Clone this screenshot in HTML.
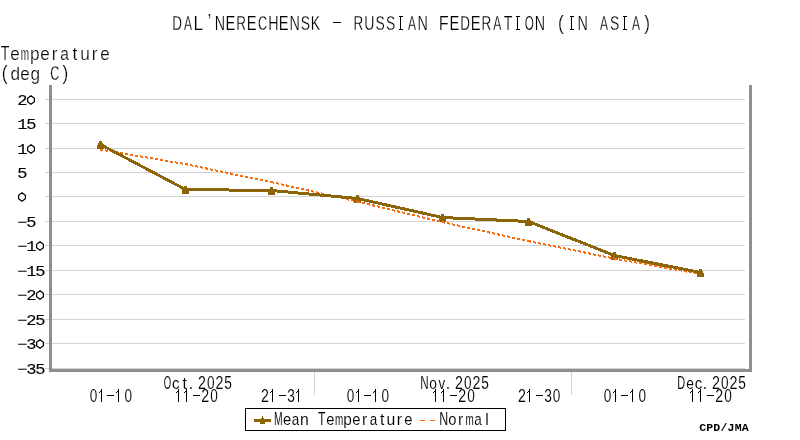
<!DOCTYPE html><html><head><meta charset="utf-8"><style>html,body{margin:0;padding:0;background:#fff;width:800px;height:440px;overflow:hidden}svg{display:block;will-change:transform}</style></head><body>
<svg width="800" height="440" viewBox="0 0 800 440">
<rect width="800" height="440" fill="#fff"/>
<rect x="45" y="99" width="700" height="1" fill="#d3d3d3"/>
<rect x="45" y="123" width="700" height="1" fill="#d3d3d3"/>
<rect x="45" y="148" width="700" height="1" fill="#d3d3d3"/>
<rect x="45" y="172" width="700" height="1" fill="#d3d3d3"/>
<rect x="45" y="196" width="700" height="1" fill="#d3d3d3"/>
<rect x="45" y="221" width="700" height="1" fill="#d3d3d3"/>
<rect x="45" y="245" width="700" height="1" fill="#d3d3d3"/>
<rect x="45" y="270" width="700" height="1" fill="#d3d3d3"/>
<rect x="45" y="294" width="700" height="1" fill="#d3d3d3"/>
<rect x="45" y="319" width="700" height="1" fill="#d3d3d3"/>
<rect x="45" y="343" width="700" height="1" fill="#d3d3d3"/>
<rect x="45" y="368" width="700" height="1" fill="#d3d3d3"/>
<rect x="314" y="372" width="1" height="23" fill="#d3d3d3"/>
<rect x="571" y="372" width="1" height="23" fill="#d3d3d3"/>
<rect x="49" y="85" width="3" height="287" fill="#8f8f8f"/>
<rect x="749" y="85" width="3" height="287" fill="#8f8f8f"/>
<rect x="49" y="369" width="703" height="3" fill="#8f8f8f"/>
<rect x="99" y="141" width="3" height="2" fill="#8b6508"/><rect x="98" y="143" width="5" height="2" fill="#8b6508"/><rect x="97" y="145" width="7" height="4" fill="#8b6508"/>
<rect x="184" y="186" width="3" height="2" fill="#8b6508"/><rect x="183" y="188" width="5" height="2" fill="#8b6508"/><rect x="182" y="190" width="7" height="4" fill="#8b6508"/>
<rect x="270" y="187" width="3" height="2" fill="#8b6508"/><rect x="269" y="189" width="5" height="2" fill="#8b6508"/><rect x="268" y="191" width="7" height="4" fill="#8b6508"/>
<rect x="356" y="195" width="3" height="2" fill="#8b6508"/><rect x="355" y="197" width="5" height="2" fill="#8b6508"/><rect x="354" y="199" width="7" height="4" fill="#8b6508"/>
<rect x="441" y="214" width="3" height="2" fill="#8b6508"/><rect x="440" y="216" width="5" height="2" fill="#8b6508"/><rect x="439" y="218" width="7" height="4" fill="#8b6508"/>
<rect x="527" y="218" width="3" height="2" fill="#8b6508"/><rect x="526" y="220" width="5" height="2" fill="#8b6508"/><rect x="525" y="222" width="7" height="4" fill="#8b6508"/>
<rect x="613" y="252" width="3" height="2" fill="#8b6508"/><rect x="612" y="254" width="5" height="2" fill="#8b6508"/><rect x="611" y="256" width="7" height="4" fill="#8b6508"/>
<rect x="699" y="269" width="3" height="2" fill="#8b6508"/><rect x="698" y="271" width="5" height="2" fill="#8b6508"/><rect x="697" y="273" width="7" height="4" fill="#8b6508"/>
<line x1="100" y1="149.5" x2="185" y2="164" stroke="#ff6a08" stroke-width="2" stroke-dasharray="3.0433 2.0289" shape-rendering="crispEdges"/>
<line x1="185" y1="164" x2="271" y2="182" stroke="#ff6a08" stroke-width="2" stroke-dasharray="3.0650 2.0433" shape-rendering="crispEdges"/>
<line x1="271" y1="182" x2="357" y2="201.5" stroke="#ff6a08" stroke-width="2" stroke-dasharray="3.0762 2.0508" shape-rendering="crispEdges"/>
<line x1="357" y1="201.5" x2="442" y2="222" stroke="#ff6a08" stroke-width="2" stroke-dasharray="3.0860 2.0573" shape-rendering="crispEdges"/>
<line x1="442" y1="222" x2="528" y2="241" stroke="#ff6a08" stroke-width="2" stroke-dasharray="3.0723 2.0482" shape-rendering="crispEdges"/>
<line x1="528" y1="241" x2="614" y2="258.5" stroke="#ff6a08" stroke-width="2" stroke-dasharray="3.0615 2.0410" shape-rendering="crispEdges"/>
<line x1="614" y1="258.5" x2="700" y2="274" stroke="#ff6a08" stroke-width="2" stroke-dasharray="3.0483 2.0322" shape-rendering="crispEdges"/>
<polyline points="100.5,144.5 185.5,189.5 271.5,190.5 357.5,198.5 442.5,217.5 528.5,221.5 614.5,255.5 700.5,272.5" fill="none" stroke="#8b6508" stroke-width="3" shape-rendering="crispEdges"/>
<g font-family="'Liberation Sans', sans-serif" font-size="20.3" font-weight="normal" fill="#000" stroke="#fff" stroke-width="0.25"><text transform="translate(177.33,30) scale(0.6654,1.0)" x="-7.68">D</text><text transform="translate(188.00,30) scale(0.5943,1.0)" x="-6.77">A</text><text transform="translate(198.67,30) scale(0.8500,1.0)" x="-6.14">L</text><text transform="translate(209.33,28) scale(0.8500,1.0)" x="-2.26">’</text><text transform="translate(220.00,30) scale(0.7055,1.0)" x="-7.33">N</text><text transform="translate(230.67,30) scale(0.7271,1.0)" x="-7.17">E</text><text transform="translate(241.34,30) scale(0.6637,1.0)" x="-7.69">R</text><text transform="translate(252.00,30) scale(0.7271,1.0)" x="-7.17">E</text><text transform="translate(262.67,30) scale(0.6223,1.0)" x="-7.46">C</text><text transform="translate(273.34,30) scale(0.7055,1.0)" x="-7.33">H</text><text transform="translate(284.00,30) scale(0.7271,1.0)" x="-7.17">E</text><text transform="translate(294.67,30) scale(0.7055,1.0)" x="-7.33">N</text><text transform="translate(305.34,30) scale(0.6846,1.0)" x="-6.77">S</text><text transform="translate(316.00,30) scale(0.6869,1.0)" x="-7.49">K</text><text transform="translate(358.67,30) scale(0.6637,1.0)" x="-7.69">R</text><text transform="translate(369.34,30) scale(0.6940,1.0)" x="-7.33">U</text><text transform="translate(380.01,30) scale(0.6846,1.0)" x="-6.77">S</text><text transform="translate(390.67,30) scale(0.6846,1.0)" x="-6.77">S</text><text transform="translate(412.01,30) scale(0.5943,1.0)" x="-6.77">A</text><text transform="translate(422.67,30) scale(0.7055,1.0)" x="-7.33">N</text><text transform="translate(444.01,30) scale(0.8063,1.0)" x="-6.63">F</text><text transform="translate(454.68,30) scale(0.7271,1.0)" x="-7.17">E</text><text transform="translate(465.34,30) scale(0.6654,1.0)" x="-7.68">D</text><text transform="translate(476.01,30) scale(0.7271,1.0)" x="-7.17">E</text><text transform="translate(486.68,30) scale(0.6637,1.0)" x="-7.69">R</text><text transform="translate(497.34,30) scale(0.5943,1.0)" x="-6.77">A</text><text transform="translate(508.01,30) scale(0.6970,1.0)" x="-6.20">T</text><text transform="translate(529.34,30) scale(0.5773,1.0)" x="-7.89">O</text><text transform="translate(540.01,30) scale(0.7055,1.0)" x="-7.33">N</text><text transform="translate(561.35,30) scale(0.8500,1.0)" x="-3.95">(</text><text transform="translate(582.68,30) scale(0.7055,1.0)" x="-7.33">N</text><text transform="translate(604.01,30) scale(0.5943,1.0)" x="-6.77">A</text><text transform="translate(614.68,30) scale(0.6846,1.0)" x="-6.77">S</text><text transform="translate(636.01,30) scale(0.5943,1.0)" x="-6.77">A</text><text transform="translate(646.68,30) scale(0.8500,1.0)" x="-2.81">)</text></g><g fill="#000"><rect x="333" y="22" width="8" height="1"/><rect x="399" y="16" width="4" height="1"/><rect x="399" y="29" width="4" height="1"/><rect x="400" y="16" width="1" height="14"/><rect x="516" y="16" width="4" height="1"/><rect x="516" y="29" width="4" height="1"/><rect x="517" y="16" width="1" height="14"/><rect x="570" y="16" width="4" height="1"/><rect x="570" y="29" width="4" height="1"/><rect x="571" y="16" width="1" height="14"/><rect x="623" y="16" width="4" height="1"/><rect x="623" y="29" width="4" height="1"/><rect x="624" y="16" width="1" height="14"/></g>
<g font-family="'Liberation Sans', sans-serif" font-size="20.3" font-weight="normal" fill="#000" stroke="#fff" stroke-width="0.25"><text transform="translate(5.00,60) scale(0.6970,1.0)" x="-6.20">T</text><text transform="translate(15.00,60) scale(0.8398,0.93)" x="-5.63">e</text><text transform="translate(25.00,60) scale(0.4921,0.93)" x="-8.46">m</text><text transform="translate(35.00,60) scale(0.8500,0.93)" x="-5.87">p</text><text transform="translate(45.00,60) scale(0.8398,0.93)" x="-5.63">e</text><text transform="translate(55.00,60) scale(0.8500,0.93)" x="-3.89">r</text><text transform="translate(65.00,60) scale(0.7672,0.93)" x="-6.08">a</text><text transform="translate(75.00,60) scale(0.8500,0.93)" x="-2.90">t</text><text transform="translate(85.00,60) scale(0.8500,0.93)" x="-5.63">u</text><text transform="translate(95.00,60) scale(0.8500,0.93)" x="-3.89">r</text><text transform="translate(105.00,60) scale(0.8398,0.93)" x="-5.63">e</text></g>
<g font-family="'Liberation Sans', sans-serif" font-size="20.3" font-weight="normal" fill="#000" stroke="#fff" stroke-width="0.25"><text transform="translate(5.00,80) scale(0.8500,1.0)" x="-3.95">(</text><text transform="translate(15.00,80) scale(0.8500,0.93)" x="-5.42">d</text><text transform="translate(25.00,80) scale(0.8398,0.93)" x="-5.63">e</text><text transform="translate(35.00,80) scale(0.8500,0.93)" x="-5.42">g</text><text transform="translate(55.00,80) scale(0.6223,1.0)" x="-7.46">C</text><text transform="translate(65.00,80) scale(0.8500,1.0)" x="-2.81">)</text></g>
<text transform="scale(1.14,1)" x="19.74 27.63" y="105" font-family="'Liberation Mono', monospace" font-size="15" font-weight="normal" fill="#000" text-anchor="middle" stroke="#000" stroke-width="0.12">2 </text>
<path d="M31,95.7 L34.4,98.2 L34.4,101.8 L31,104.3 L27.6,101.8 L27.6,98.2 Z" fill="none" stroke="#000" stroke-width="1.25"/>
<text transform="scale(1.14,1)" x="19.74 27.63" y="129" font-family="'Liberation Mono', monospace" font-size="15" font-weight="normal" fill="#000" text-anchor="middle" stroke="#000" stroke-width="0.12">15</text>
<text transform="scale(1.14,1)" x="19.74 27.63" y="154" font-family="'Liberation Mono', monospace" font-size="15" font-weight="normal" fill="#000" text-anchor="middle" stroke="#000" stroke-width="0.12">1 </text>
<path d="M31,144.7 L34.4,147.2 L34.4,150.8 L31,153.3 L27.6,150.8 L27.6,147.2 Z" fill="none" stroke="#000" stroke-width="1.25"/>
<text transform="scale(1.14,1)" x="19.74" y="178" font-family="'Liberation Mono', monospace" font-size="15" font-weight="normal" fill="#000" text-anchor="middle" stroke="#000" stroke-width="0.12">5</text>
<text transform="scale(1.14,1)" x="19.74" y="202" font-family="'Liberation Mono', monospace" font-size="15" font-weight="normal" fill="#000" text-anchor="middle" stroke="#000" stroke-width="0.12"> </text>
<path d="M22,192.7 L25.4,195.2 L25.4,198.8 L22,201.3 L18.6,198.8 L18.6,195.2 Z" fill="none" stroke="#000" stroke-width="1.25"/>
<text transform="scale(1.14,1)" x="19.74 27.63" y="227" font-family="'Liberation Mono', monospace" font-size="15" font-weight="normal" fill="#000" text-anchor="middle" stroke="#000" stroke-width="0.12">−5</text>
<text transform="scale(1.14,1)" x="19.74 27.63 35.53" y="251" font-family="'Liberation Mono', monospace" font-size="15" font-weight="normal" fill="#000" text-anchor="middle" stroke="#000" stroke-width="0.12">−1 </text>
<path d="M40,241.7 L43.4,244.2 L43.4,247.8 L40,250.3 L36.6,247.8 L36.6,244.2 Z" fill="none" stroke="#000" stroke-width="1.25"/>
<text transform="scale(1.14,1)" x="19.74 27.63 35.53" y="276" font-family="'Liberation Mono', monospace" font-size="15" font-weight="normal" fill="#000" text-anchor="middle" stroke="#000" stroke-width="0.12">−15</text>
<text transform="scale(1.14,1)" x="19.74 27.63 35.53" y="300" font-family="'Liberation Mono', monospace" font-size="15" font-weight="normal" fill="#000" text-anchor="middle" stroke="#000" stroke-width="0.12">−2 </text>
<path d="M40,290.7 L43.4,293.2 L43.4,296.8 L40,299.3 L36.6,296.8 L36.6,293.2 Z" fill="none" stroke="#000" stroke-width="1.25"/>
<text transform="scale(1.14,1)" x="19.74 27.63 35.53" y="325" font-family="'Liberation Mono', monospace" font-size="15" font-weight="normal" fill="#000" text-anchor="middle" stroke="#000" stroke-width="0.12">−25</text>
<text transform="scale(1.14,1)" x="19.74 27.63 35.53" y="349" font-family="'Liberation Mono', monospace" font-size="15" font-weight="normal" fill="#000" text-anchor="middle" stroke="#000" stroke-width="0.12">−3 </text>
<path d="M40,339.7 L43.4,342.2 L43.4,345.8 L40,348.3 L36.6,345.8 L36.6,342.2 Z" fill="none" stroke="#000" stroke-width="1.25"/>
<text transform="scale(1.14,1)" x="19.74 27.63 35.53" y="374" font-family="'Liberation Mono', monospace" font-size="15" font-weight="normal" fill="#000" text-anchor="middle" stroke="#000" stroke-width="0.12">−35</text>
<g font-family="'Liberation Sans', sans-serif" font-size="18.6" font-weight="normal" fill="#000" stroke="#fff" stroke-width="0.1"><text transform="translate(93.63,402) scale(0.7311,1.0)" x="-5.17">0</text><text transform="translate(128.30,402) scale(0.7311,1.0)" x="-5.17">0</text></g><g fill="#000"><rect x="101" y="389" width="1" height="13"/><rect x="100" y="391" width="1" height="1"/><rect x="99" y="392" width="1" height="1"/><rect x="107" y="395" width="7" height="1"/><rect x="118" y="389" width="1" height="13"/><rect x="117" y="391" width="1" height="1"/><rect x="116" y="392" width="1" height="1"/></g>
<g font-family="'Liberation Sans', sans-serif" font-size="18.6" font-weight="normal" fill="#000" stroke="#fff" stroke-width="0.1"><text transform="translate(205.30,402) scale(0.7671,1.0)" x="-5.17">2</text><text transform="translate(213.97,402) scale(0.7311,1.0)" x="-5.17">0</text></g><g fill="#000"><rect x="178" y="389" width="1" height="13"/><rect x="177" y="391" width="1" height="1"/><rect x="176" y="392" width="1" height="1"/><rect x="186" y="389" width="1" height="13"/><rect x="185" y="391" width="1" height="1"/><rect x="184" y="392" width="1" height="1"/><rect x="193" y="395" width="7" height="1"/></g>
<g font-family="'Liberation Sans', sans-serif" font-size="18.6" font-weight="normal" fill="#000" stroke="#fff" stroke-width="0.1"><text transform="translate(264.97,402) scale(0.7671,1.0)" x="-5.17">2</text><text transform="translate(290.97,402) scale(0.7371,1.0)" x="-5.12">3</text></g><g fill="#000"><rect x="272" y="389" width="1" height="13"/><rect x="271" y="391" width="1" height="1"/><rect x="270" y="392" width="1" height="1"/><rect x="279" y="395" width="7" height="1"/><rect x="298" y="389" width="1" height="13"/><rect x="297" y="391" width="1" height="1"/><rect x="296" y="392" width="1" height="1"/></g>
<g font-family="'Liberation Sans', sans-serif" font-size="18.6" font-weight="normal" fill="#000" stroke="#fff" stroke-width="0.1"><text transform="translate(350.63,402) scale(0.7311,1.0)" x="-5.17">0</text><text transform="translate(385.30,402) scale(0.7311,1.0)" x="-5.17">0</text></g><g fill="#000"><rect x="358" y="389" width="1" height="13"/><rect x="357" y="391" width="1" height="1"/><rect x="356" y="392" width="1" height="1"/><rect x="364" y="395" width="7" height="1"/><rect x="375" y="389" width="1" height="13"/><rect x="374" y="391" width="1" height="1"/><rect x="373" y="392" width="1" height="1"/></g>
<g font-family="'Liberation Sans', sans-serif" font-size="18.6" font-weight="normal" fill="#000" stroke="#fff" stroke-width="0.1"><text transform="translate(462.30,402) scale(0.7671,1.0)" x="-5.17">2</text><text transform="translate(470.97,402) scale(0.7311,1.0)" x="-5.17">0</text></g><g fill="#000"><rect x="435" y="389" width="1" height="13"/><rect x="434" y="391" width="1" height="1"/><rect x="433" y="392" width="1" height="1"/><rect x="443" y="389" width="1" height="13"/><rect x="442" y="391" width="1" height="1"/><rect x="441" y="392" width="1" height="1"/><rect x="450" y="395" width="7" height="1"/></g>
<g font-family="'Liberation Sans', sans-serif" font-size="18.6" font-weight="normal" fill="#000" stroke="#fff" stroke-width="0.1"><text transform="translate(521.97,402) scale(0.7671,1.0)" x="-5.17">2</text><text transform="translate(547.97,402) scale(0.7371,1.0)" x="-5.12">3</text><text transform="translate(556.64,402) scale(0.7311,1.0)" x="-5.17">0</text></g><g fill="#000"><rect x="529" y="389" width="1" height="13"/><rect x="528" y="391" width="1" height="1"/><rect x="527" y="392" width="1" height="1"/><rect x="536" y="395" width="7" height="1"/></g>
<g font-family="'Liberation Sans', sans-serif" font-size="18.6" font-weight="normal" fill="#000" stroke="#fff" stroke-width="0.1"><text transform="translate(607.64,402) scale(0.7311,1.0)" x="-5.17">0</text><text transform="translate(642.30,402) scale(0.7311,1.0)" x="-5.17">0</text></g><g fill="#000"><rect x="615" y="389" width="1" height="13"/><rect x="614" y="391" width="1" height="1"/><rect x="613" y="392" width="1" height="1"/><rect x="621" y="395" width="7" height="1"/><rect x="632" y="389" width="1" height="13"/><rect x="631" y="391" width="1" height="1"/><rect x="630" y="392" width="1" height="1"/></g>
<g font-family="'Liberation Sans', sans-serif" font-size="18.6" font-weight="normal" fill="#000" stroke="#fff" stroke-width="0.1"><text transform="translate(719.30,402) scale(0.7671,1.0)" x="-5.17">2</text><text transform="translate(727.97,402) scale(0.7311,1.0)" x="-5.17">0</text></g><g fill="#000"><rect x="692" y="389" width="1" height="13"/><rect x="691" y="391" width="1" height="1"/><rect x="690" y="392" width="1" height="1"/><rect x="700" y="389" width="1" height="13"/><rect x="699" y="391" width="1" height="1"/><rect x="698" y="392" width="1" height="1"/><rect x="707" y="395" width="7" height="1"/></g>
<g font-family="'Liberation Sans', sans-serif" font-size="18.6" font-weight="normal" fill="#000" stroke="#fff" stroke-width="0.1"><text transform="translate(167.33,389) scale(0.5120,1.0)" x="-7.23">O</text><text transform="translate(176.00,389) scale(0.8106,0.9)" x="-4.80">c</text><text transform="translate(184.67,389) scale(0.8500,0.9)" x="-2.66">t</text><text transform="translate(191.03,389) scale(0.8500,1.0)" x="-2.58">.</text><text transform="translate(202.00,389) scale(0.7671,1.0)" x="-5.17">2</text><text transform="translate(210.67,389) scale(0.7311,1.0)" x="-5.17">0</text><text transform="translate(219.34,389) scale(0.7671,1.0)" x="-5.17">2</text><text transform="translate(228.00,389) scale(0.7371,1.0)" x="-5.15">5</text></g>
<g font-family="'Liberation Sans', sans-serif" font-size="18.6" font-weight="normal" fill="#000" stroke="#fff" stroke-width="0.1"><text transform="translate(424.33,389) scale(0.6256,1.0)" x="-6.72">N</text><text transform="translate(433.00,389) scale(0.7402,0.9)" x="-5.17">o</text><text transform="translate(441.67,389) scale(0.7086,0.9)" x="-4.65">v</text><text transform="translate(448.03,389) scale(0.8500,1.0)" x="-2.58">.</text><text transform="translate(459.00,389) scale(0.7671,1.0)" x="-5.17">2</text><text transform="translate(467.67,389) scale(0.7311,1.0)" x="-5.17">0</text><text transform="translate(476.34,389) scale(0.7671,1.0)" x="-5.17">2</text><text transform="translate(485.00,389) scale(0.7371,1.0)" x="-5.15">5</text></g>
<g font-family="'Liberation Sans', sans-serif" font-size="18.6" font-weight="normal" fill="#000" stroke="#fff" stroke-width="0.1"><text transform="translate(681.33,389) scale(0.5900,1.0)" x="-7.03">D</text><text transform="translate(690.00,389) scale(0.7448,0.9)" x="-5.15">e</text><text transform="translate(698.67,389) scale(0.8106,0.9)" x="-4.80">c</text><text transform="translate(705.03,389) scale(0.8500,1.0)" x="-2.58">.</text><text transform="translate(716.00,389) scale(0.7671,1.0)" x="-5.17">2</text><text transform="translate(724.67,389) scale(0.7311,1.0)" x="-5.17">0</text><text transform="translate(733.34,389) scale(0.7671,1.0)" x="-5.17">2</text><text transform="translate(742.00,389) scale(0.7371,1.0)" x="-5.15">5</text></g>
<rect x="245.5" y="408.5" width="260" height="22" fill="none" stroke="#000" stroke-width="1"/>
<rect x="254" y="419" width="17" height="3" fill="#8b6508"/>
<rect x="262" y="416" width="1" height="2" fill="#8b6508"/><rect x="261" y="418" width="3" height="1" fill="#8b6508"/><rect x="260" y="419" width="5" height="5" fill="#8b6508"/>
<g font-family="'Liberation Sans', sans-serif" font-size="18.6" font-weight="normal" fill="#000" stroke="#fff" stroke-width="0.1"><text transform="translate(278.33,425) scale(0.5573,1.0)" x="-7.75">M</text><text transform="translate(287.00,425) scale(0.7944,0.9)" x="-5.15">e</text><text transform="translate(295.67,425) scale(0.7257,0.9)" x="-5.57">a</text><text transform="translate(304.33,425) scale(0.8500,0.9)" x="-5.19">n</text><text transform="translate(321.67,425) scale(0.6593,1.0)" x="-5.68">T</text><text transform="translate(330.34,425) scale(0.7944,0.9)" x="-5.15">e</text><text transform="translate(339.00,425) scale(0.5320,0.9)" x="-7.75">m</text><text transform="translate(347.67,425) scale(0.8289,0.9)" x="-5.38">p</text><text transform="translate(356.34,425) scale(0.7944,0.9)" x="-5.15">e</text><text transform="translate(365.00,425) scale(0.8500,0.9)" x="-3.56">r</text><text transform="translate(373.67,425) scale(0.7257,0.9)" x="-5.57">a</text><text transform="translate(382.34,425) scale(0.8500,0.9)" x="-2.66">t</text><text transform="translate(391.00,425) scale(0.8500,0.9)" x="-5.16">u</text><text transform="translate(399.67,425) scale(0.8500,0.9)" x="-3.56">r</text><text transform="translate(408.34,425) scale(0.7944,0.9)" x="-5.15">e</text></g>
<rect x="420" y="420" width="5" height="1" fill="#ff6a08"/><rect x="430" y="420" width="5" height="1" fill="#ff6a08"/>
<g font-family="'Liberation Sans', sans-serif" font-size="18.6" font-weight="normal" fill="#000" stroke="#fff" stroke-width="0.1"><text transform="translate(443.63,425) scale(0.6673,1.0)" x="-6.72">N</text><text transform="translate(452.30,425) scale(0.7895,0.9)" x="-5.17">o</text><text transform="translate(460.97,425) scale(0.8500,0.9)" x="-3.56">r</text><text transform="translate(469.63,425) scale(0.5320,0.9)" x="-7.75">m</text><text transform="translate(478.30,425) scale(0.7257,0.9)" x="-5.57">a</text><text transform="translate(486.97,425) scale(0.8500,0.9)" x="-2.07">l</text></g>
<text transform="scale(0.98,1)" x="716.99 724.23 731.48 738.72 745.97 753.21 760.46" y="431" font-family="'Liberation Mono', monospace" font-size="11.8" font-weight="bold" fill="#000" text-anchor="middle">CPD/JMA</text>
</svg></body></html>
